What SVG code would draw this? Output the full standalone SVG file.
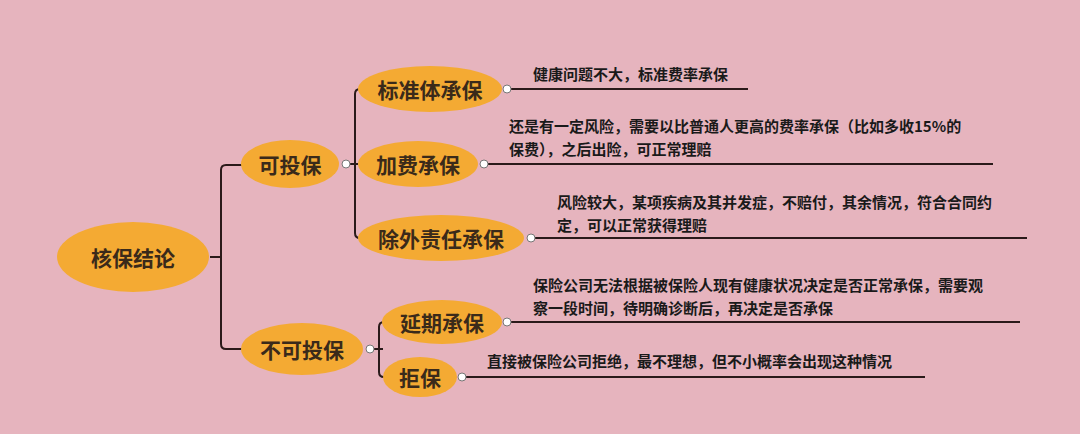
<svg xmlns="http://www.w3.org/2000/svg" width="1080" height="434" viewBox="0 0 1080 434">
<style>
.n{fill:#f4aa33}
.t{font-family:"Noto Sans CJK SC",sans-serif;fill:#3a2a1a;text-anchor:middle;dominant-baseline:central;font-weight:bold}
.d{font-family:"Noto Sans CJK SC",sans-serif;fill:#1a1a1a;font-size:15px;font-weight:bold}
.l{fill:none;stroke:#2a1a1a;stroke-width:2}
.c{fill:#fff;stroke:#777;stroke-width:1}
</style>
<rect width="1080" height="434" fill="#e6b4be"/>
<g id="connectors">
<path class="l" d="M210 257H221M221 170V344Q221 349 226 349H242M221 170Q221 165 226 165H242"/>
<path class="l" d="M350 164H358M355 94V233Q355 238 360 238H361M355 94Q355 89 360 89H361"/>
<path class="l" d="M374 349H383M379 327V372Q379 377 384 377M379 327Q379 322 384 322"/>
<path class="l" d="M511 89H748M488 164H993M535 238H1027M511 322H1020M466 377H925"/>
<circle class="c" cx="346" cy="164" r="4"/>
<circle class="c" cx="507" cy="89" r="4"/>
<circle class="c" cx="484" cy="164" r="4"/>
<circle class="c" cx="531" cy="238" r="4"/>
<circle class="c" cx="370" cy="349" r="4"/>
<circle class="c" cx="507" cy="322" r="4"/>
<circle class="c" cx="462" cy="377" r="4"/>
</g>
<g id="root"><ellipse class="n" cx="133" cy="257" rx="76" ry="35"/><text class="t" x="133" y="257" font-size="21">核保结论</text></g>
<g id="ketoubao"><ellipse class="n" cx="290" cy="164" rx="49" ry="24"/><text class="t" x="290" y="164" font-size="21">可投保</text></g>
<g id="bukeToubao"><ellipse class="n" cx="302" cy="349" rx="61" ry="26"/><text class="t" x="302" y="349" font-size="21">不可投保</text></g>
<g id="biaozhun"><ellipse class="n" cx="430" cy="89" rx="72" ry="23"/><text class="t" x="430" y="89" font-size="21">标准体承保</text></g>
<g id="jiafei"><ellipse class="n" cx="418" cy="164" rx="60" ry="23"/><text class="t" x="418" y="164" font-size="21">加费承保</text></g>
<g id="chuwai"><ellipse class="n" cx="441" cy="238" rx="83" ry="23"/><text class="t" x="441" y="238" font-size="21">除外责任承保</text></g>
<g id="yanqi"><ellipse class="n" cx="442" cy="322" rx="60" ry="22"/><text class="t" x="442" y="322" font-size="21">延期承保</text></g>
<g id="jubao"><ellipse class="n" cx="420" cy="377" rx="37" ry="20"/><text class="t" x="420" y="377" font-size="21">拒保</text></g>
<g id="notes">
<text class="d" x="533" y="80">健康问题不大，标准费率承保</text>
<text class="d" x="509" y="132">还是有一定风险，需要以比普通人更高的费率承保（比如多收15%的</text>
<text class="d" x="509" y="155">保费），之后出险，可正常理赔</text>
<text class="d" x="557" y="208">风险较大，某项疾病及其并发症，不赔付，其余情况，符合合同约</text>
<text class="d" x="557" y="231">定，可以正常获得理赔</text>
<text class="d" x="533" y="291">保险公司无法根据被保险人现有健康状况决定是否正常承保，需要观</text>
<text class="d" x="533" y="314">察一段时间，待明确诊断后，再决定是否承保</text>
<text class="d" x="487" y="367">直接被保险公司拒绝，最不理想，但不小概率会出现这种情况</text>
</g>
</svg>
